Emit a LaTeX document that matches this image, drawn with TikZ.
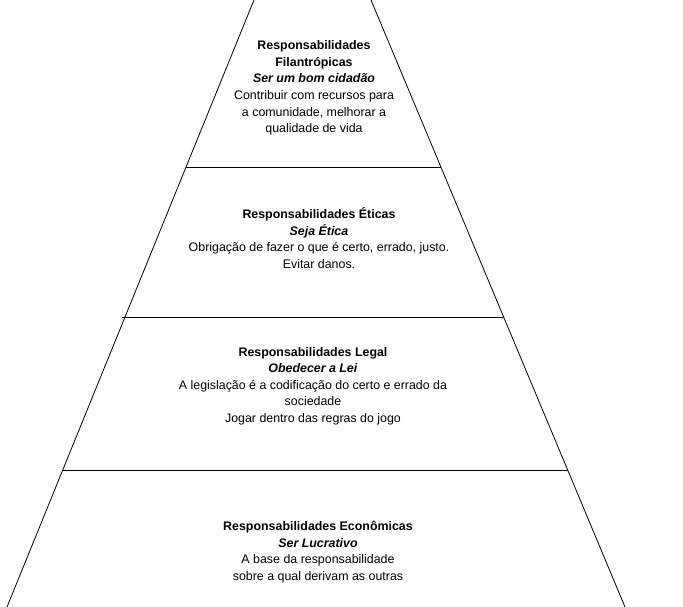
\documentclass[tikz,border=0pt]{standalone}
\usepackage{fontspec}
\setmainfont{Liberation Sans}
\begin{document}
\begin{tikzpicture}[x=1bp,y=-1bp,
  lvl/.style={align=center,font=\fontsize{12.4bp}{16.6bp}\selectfont,inner sep=0},
  edge/.style={line width=0.8bp,black}]
\useasboundingbox (0,0) rectangle (683,607);
\coordinate (lt) at (254,0);
\coordinate (lb) at (7,607);
\coordinate (rt) at (371,0);
\coordinate (rb) at (625,607);
\draw[edge] (lt) -- (lb);
\draw[edge] (rt) -- (rb);
\draw[edge] (186,167) -- (441,167);
\draw[edge] (122,317) -- (504,317);
\draw[edge] (63,470) -- (568,470);
\node[lvl] (n1) at (314,88) {\textbf{Responsabilidades}\\\textbf{Filantrópicas}\\\textbf{\textit{Ser um bom cidadão}}\\Contribuir com recursos para\\a comunidade, melhorar a\\qualidade de vida};
\node[lvl] (n2) at (319,238) {\textbf{Responsabilidades Éticas}\\\textbf{\textit{Seja Ética}}\\Obrigação de fazer o que é certo, errado, justo.\\Evitar danos.};
\node[lvl] (n3) at (313,386) {\textbf{Responsabilidades Legal}\\\textbf{\textit{Obedecer a Lei}}\\A legislação é a codificação do certo e errado da\\sociedade\\Jogar dentro das regras do jogo};
\node[lvl] (n4) at (318,552) {\textbf{Responsabilidades Econômicas}\\\textbf{\textit{Ser Lucrativo}}\\A base da responsabilidade\\sobre a qual derivam as outras};
\end{tikzpicture}
\end{document}
